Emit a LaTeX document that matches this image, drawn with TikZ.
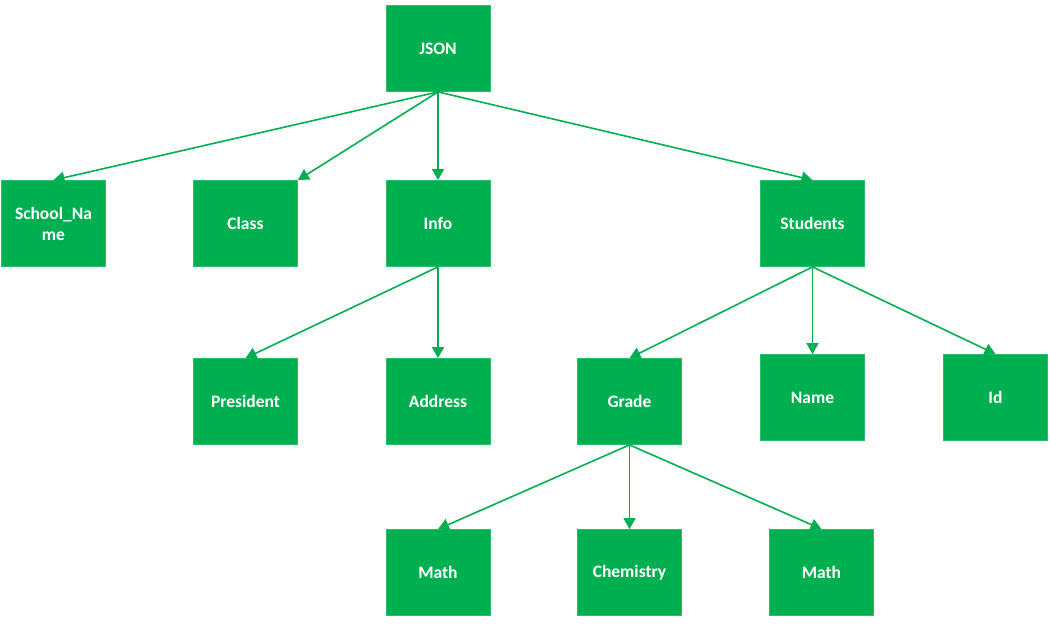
\documentclass[tikz,border=0pt]{standalone}
\usepackage{fontspec}
\setmainfont{Carlito}
\usetikzlibrary{arrows.meta}
\definecolor{boxgreen}{HTML}{00B050}
\definecolor{edgegreen}{HTML}{2DBE63}
\tikzset{
  box/.style={rectangle, fill=boxgreen, draw=edgegreen, line width=0.8pt,
    minimum width=104pt, minimum height=86pt, inner sep=0pt,
    text=white, font=\fontsize{17.5}{21}\selectfont\bfseries, align=center},
  link/.style={draw=boxgreen, line width=1.6pt, -{Triangle[width=12pt,length=11pt]}}
}
\begin{document}
\begin{tikzpicture}[x=1pt,y=-1pt]
\useasboundingbox (0,0) rectangle (1050,625);
\node[box] (json) at (438,48.5) {JSON};
\node[box] (school) at (53.5,223.5) {School\_Na\\me};
\node[box] (class) at (245.5,223.5) {Class};
\node[box] (info) at (438,223.5) {Info};
\node[box] (students) at (812.5,223.5) {Students};
\node[box] (president) at (245.5,401.5) {President};
\node[box] (address) at (438,401.5) {Address};
\node[box] (grade) at (629.5,401.5) {Grade};
\node[box] (name) at (812.5,397.5) {Name};
\node[box] (id) at (995.5,397.5) {Id};
\node[box] (math1) at (438,572.5) {Math};
\node[box] (chem) at (629.5,572.5) {Chemistry};
\node[box] (math2) at (821.5,572.5) {Math};
\draw[link] (json.south) -- (school.north);
\draw[link] (json.south) -- (class.north east);
\draw[link] (json.south) -- (info.north);
\draw[link] (json.south) -- (students.north);
\draw[link] (info.south) -- (president.north);
\draw[link] (info.south) -- (address.north);
\draw[link] (students.south) -- (grade.north);
\draw[link] (students.south) -- (name.north);
\draw[link] (students.south) -- (id.north);
\draw[link] (grade.south) -- (math1.north);
\draw[link] (grade.south) -- (chem.north);
\draw[link] (grade.south) -- (math2.north);
\end{tikzpicture}
\end{document}
